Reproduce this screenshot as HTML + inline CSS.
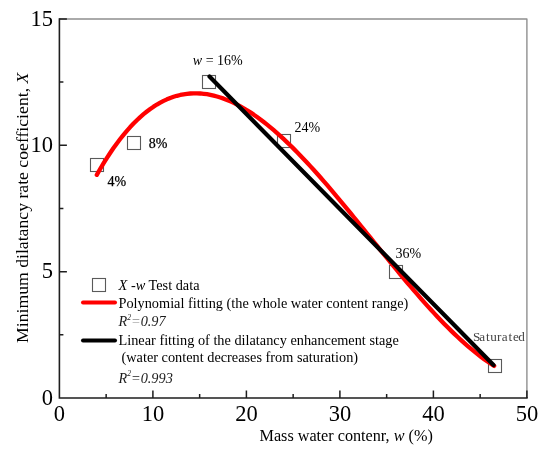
<!DOCTYPE html>
<html><head><meta charset="utf-8"><style>
html,body{margin:0;padding:0;background:#fff;}
svg{display:block;}
text{font-family:"Liberation Serif","Times New Roman",serif;fill:#000;}
</style></head><body>
<svg width="550" height="450" viewBox="0 0 550 450">
<rect width="550" height="450" fill="#fff"/>
<path d="M59.4,18.95H526.90V398.0" fill="none" stroke="#8f8f8f" stroke-width="1.4" stroke-linejoin="round"/>
<path d="M59.4,18.95V398.0H526.90" fill="none" stroke="#1e1e1e" stroke-width="1.6" stroke-linecap="square"/>
<path d="M152.90,398.0V390.5 M246.40,398.0V390.5 M339.90,398.0V390.5 M433.40,398.0V390.5 M526.90,398.0V390.5 M106.15,398.0V394.0 M199.65,398.0V394.0 M293.15,398.0V394.0 M386.65,398.0V394.0 M480.15,398.0V394.0 M59.4,271.65H66.9 M59.4,145.30H66.9 M59.4,18.95H66.9 M59.4,334.82H63.4 M59.4,208.47H63.4 M59.4,82.12H63.4" stroke="#1e1e1e" stroke-width="1.5" fill="none"/>
<g font-size="22.5" text-anchor="middle"><text x="59.40" y="421">0</text><text x="152.90" y="421">10</text><text x="246.40" y="421">20</text><text x="339.90" y="421">30</text><text x="433.40" y="421">40</text><text x="526.90" y="421">50</text></g>
<g font-size="22.5" text-anchor="end"><text x="53" y="404.60">0</text><text x="53" y="278.25">5</text><text x="53" y="151.90">10</text><text x="53" y="25.55">15</text></g>
<text x="259.5" y="440.5" font-size="16.2">Mass water contenr, <tspan font-style="italic">w</tspan> (%)</text>
<text transform="translate(28,343) rotate(-90)" font-size="17.7">Minimum dilatancy rate coefficient, <tspan font-style="italic">X</tspan></text>
<g fill="none" stroke="#5a5a5a" stroke-width="1.1"><rect x="90.5" y="158.5" width="13" height="13"/><rect x="127.5" y="136.5" width="13" height="13"/><rect x="202.5" y="75.5" width="13" height="13"/><rect x="277.5" y="134.5" width="13" height="13"/><rect x="389.5" y="265.5" width="13" height="13"/><rect x="488.5" y="359.5" width="13" height="13"/></g>
<polyline points="96.80,174.83 100.14,169.00 103.48,163.41 106.82,158.06 110.16,152.95 113.50,148.07 116.84,143.42 120.17,139.00 123.51,134.80 126.85,130.83 130.19,127.07 133.53,123.53 136.87,120.21 140.21,117.09 143.55,114.18 146.89,111.48 150.23,108.97 153.57,106.67 156.91,104.55 160.25,102.63 163.59,100.90 166.92,99.36 170.26,98.00 173.60,96.81 176.94,95.81 180.28,94.98 183.62,94.32 186.96,93.83 190.30,93.50 193.64,93.33 196.98,93.33 200.32,93.48 203.66,93.78 207.00,94.23 210.34,94.83 213.68,95.58 217.01,96.46 220.35,97.49 223.69,98.65 227.03,99.94 230.37,101.35 233.71,102.90 237.05,104.57 240.39,106.36 243.73,108.26 247.07,110.28 250.41,112.41 253.75,114.65 257.09,117.00 260.43,119.44 263.76,121.99 267.10,124.63 270.44,127.37 273.78,130.19 277.12,133.10 280.46,136.10 283.80,139.18 287.14,142.33 290.48,145.56 293.82,148.87 297.16,152.24 300.50,155.68 303.84,159.18 307.17,162.74 310.51,166.36 313.85,170.03 317.19,173.76 320.53,177.53 323.87,181.35 327.21,185.21 330.55,189.11 333.89,193.04 337.23,197.01 340.57,201.01 343.91,205.04 347.25,209.09 350.59,213.16 353.92,217.25 357.26,221.36 360.60,225.48 363.94,229.60 367.28,233.74 370.62,237.88 373.96,242.01 377.30,246.15 380.64,250.28 383.98,254.40 387.32,258.51 390.66,262.60 394.00,266.68 397.34,270.73 400.67,274.77 404.01,278.77 407.35,282.75 410.69,286.69 414.03,290.60 417.37,294.47 420.71,298.30 424.05,302.08 427.39,305.82 430.73,309.50 434.07,313.14 437.41,316.71 440.75,320.23 444.09,323.68 447.42,327.07 450.76,330.39 454.10,333.64 457.44,336.81 460.78,339.90 464.12,342.92 467.46,345.85 470.80,348.70 474.14,351.45 477.48,354.12 480.82,356.68 484.16,359.15 487.50,361.52 490.84,363.79 494.17,365.94" fill="none" stroke="#f00" stroke-width="4.3" stroke-linecap="round" stroke-linejoin="round"/>
<line x1="209.5" y1="76.5" x2="493.5" y2="365" stroke="#000" stroke-width="4.2" stroke-linecap="round"/>
<g font-size="14">
<text x="192.8" y="64.6"><tspan font-style="italic">w</tspan> = 16%</text>
<text x="148.7" y="148.2" stroke="#000" stroke-width="0.25">8%</text>
<text x="107.6" y="185.5" stroke="#000" stroke-width="0.25">4%</text>
<text x="294.4" y="131.8">24%</text>
<text x="395.6" y="257.9">36%</text>
</g>
<text transform="scale(1.15,1)" x="414.52 419.39 424.26 429.13 434.00 438.87 443.74 448.61 453.48" y="341.2" font-size="11.5" text-anchor="middle" style="fill:#444">Saturated</text>
<rect x="92.5" y="278.5" width="13" height="13" fill="none" stroke="#5a5a5a" stroke-width="1.1"/>
<line x1="83" y1="302.5" x2="115" y2="302.5" stroke="#f00" stroke-width="4" stroke-linecap="round"/>
<line x1="83" y1="340.6" x2="115" y2="340.6" stroke="#000" stroke-width="4" stroke-linecap="round"/>
<g font-size="14.3">
<text x="118.6" y="289.6"><tspan font-style="italic">X</tspan> -<tspan font-style="italic">w</tspan> Test data</text>
<text x="118.5" y="307.5">Polynomial fitting (the whole water content range)</text>
<text x="118.5" y="326.4" font-style="italic" style="fill:#1a1a1a">R<tspan font-size="7.5" dy="-6.6">2</tspan><tspan dy="6.6" style="fill:#8a8a8a">=</tspan>0.97</text>
<text x="118.5" y="344.6">Linear fitting of the dilatancy enhancement stage</text>
<text x="121.5" y="362.3">(water content decreases from saturation)</text>
<text x="118.5" y="382.8" font-style="italic" style="fill:#1a1a1a">R<tspan font-size="7.5" dy="-6.6">2</tspan><tspan dy="6.6">=0.993</tspan></text>
</g>
</svg>
</body></html>
